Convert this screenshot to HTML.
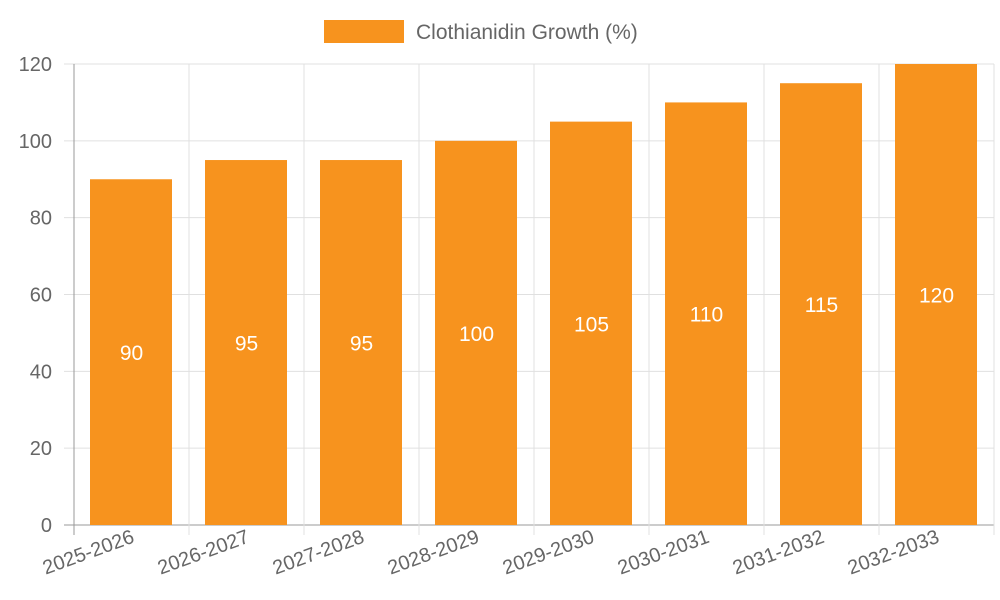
<!DOCTYPE html>
<html><head><meta charset="utf-8"><style>
body{margin:0;background:#fff;}
svg{display:block;font-family:"Liberation Sans",sans-serif;}
</style></head><body>
<svg id="chart" width="1000" height="600">
<g>
<rect x="324" y="20" width="80" height="23" fill="#f7931e"></rect>
<text x="416" y="39" font-size="21" fill="#666">Clothianidin Growth (%)</text>
</g>
<g id="grid"></g><g id="bars"></g><g id="labels"></g>
</svg>
<script>
const categories=["2025-2026","2026-2027","2027-2028","2028-2029","2029-2030","2030-2031","2031-2032","2032-2033"];
const values=[90,95,95,100,105,110,115,120];
const yTicks=[0,20,40,60,80,100,120];
const L=74,R=994,T=64,B=525,yMax=120;
const ns="http://www.w3.org/2000/svg";
const bw=(R-L)/categories.length;
function y(v){return B-(v/yMax)*(B-T);}
function x(i){return L+i*bw;}
function mk(t,a,p){const e=document.createElementNS(ns,t);for(const k in a)e.setAttribute(k,a[k]);p.appendChild(e);return e;}
const g=document.getElementById('grid'),gb=document.getElementById('bars'),gl=document.getElementById('labels');
yTicks.forEach(v=>{
 const ln=mk('line',{x1:64,x2:R,y1:y(v),y2:y(v),stroke:v===0?'#999':'#e0e0e0','stroke-width':1},g);
 
 
 const t=mk('text',{x:52,y:y(v)+7,'text-anchor':'end','font-size':20,fill:'#666'},g);
 t.textContent=v;
 
 
});
for(let i=0;i<=categories.length;i++){
 const ln=mk('line',{x1:x(i),x2:x(i),y1:T,y2:B+10,stroke:i===0?'#999':'#e0e0e0','stroke-width':1},g);
 
 
}
categories.forEach((c,i)=>{
 const v=values[i];
 const r=mk('rect',{x:x(i)+16,y:y(v),width:bw-33,height:B-y(v),fill:'#f7931e'},gb);
 
 
 const t=mk('text',{x:x(i)+bw/2,y:(y(v)+B)/2+8,'text-anchor':'middle','font-size':21,fill:'#fff'},gl);
 t.textContent=v;
 
 
 const cx=x(i)+bw/2+4,cy=542;
 const xl=mk('text',{x:cx,y:cy,'text-anchor':'end','font-size':20,fill:'#666',transform:`rotate(-20 ${cx} ${cy})`},gl);
 xl.textContent=c;
 
 
});
</script>
</body></html>
